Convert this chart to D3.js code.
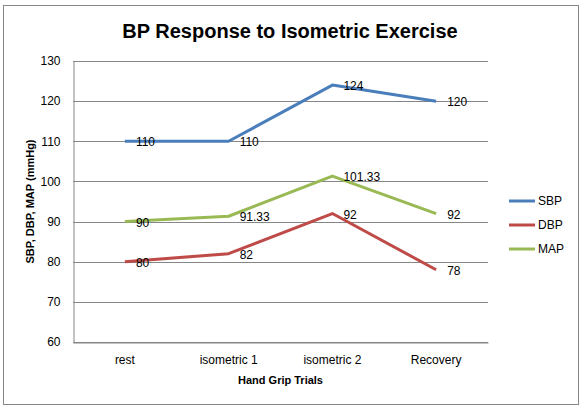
<!doctype html>
<html>
  <head>
    <meta charset="utf-8">
    <title>BP Response to Isometric Exercise</title>
    <script src="https://cdnjs.cloudflare.com/ajax/libs/d3/7.8.5/d3.min.js"></script>
    <style>
      body { margin: 0; background: #fff; }
      text { font-family: "Liberation Sans", Arial, sans-serif; fill: #000; }
    </style>
  </head>
  <body>
    <div id="chart"></div>
    <script>
      // chart data
      const categories = ['rest', 'isometric 1', 'isometric 2', 'Recovery'];
      const sbp = [110, 110, 124, 120];
      const dbp = [80, 82, 92, 78];
      const map = [90, 91.33, 101.33, 92];
      const seriesNames = ['SBP', 'DBP', 'MAP'];
      const yTicks = [60, 70, 80, 90, 100, 110, 120, 130];

      const seriesColors = ['#4a7ebb', '#be4b48', '#98b954'];
      const series = [sbp, dbp, map].map((values, i) => ({
        name: seriesNames[i], values, color: seriesColors[i]
      }));

      const width = 586, height = 412;
      const plot = { left: 73, right: 488, top: 61, bottom: 342 };

      const svg = d3.select('#chart')
        .append('svg')
        .attr('width', width)
        .attr('height', height);

      // outer chart border
      svg.append('rect')
        .attr('x', 3.5).attr('y', 5.5)
        .attr('width', 575).attr('height', 399)
        .attr('fill', '#fff')
        .attr('stroke', '#868686');

      const x = d3.scaleBand()
        .domain(categories)
        .range([plot.left, plot.right]);

      const y = d3.scaleLinear()
        .domain([60, 130])
        .range([plot.bottom, plot.top]);

      // gridlines
      svg.append('g')
        .selectAll('line')
        .data(yTicks)
        .join('line')
        .attr('x1', plot.left).attr('x2', plot.right)
        .attr('y1', d => Math.round(y(d)) + 0.5)
        .attr('y2', d => Math.round(y(d)) + 0.5)
        .attr('stroke', '#868686');

      // y axis
      const yAxis = svg.append('g')
        .attr('transform', `translate(${plot.left + 0.5},0)`)
        .call(d3.axisLeft(y).tickValues(yTicks).tickSize(0).tickPadding(13));
      yAxis.select('.domain').attr('stroke', '#868686');
      yAxis.selectAll('text')
        .attr('font-size', 12)
        .attr('font-family', '"Liberation Sans", Arial, sans-serif');

      // x axis
      const xAxis = svg.append('g')
        .attr('transform', `translate(0,${plot.bottom + 0.5})`)
        .call(d3.axisBottom(x).tickSize(0).tickPadding(13));
      xAxis.select('.domain').attr('stroke', '#868686');
      xAxis.selectAll('text')
        .attr('font-size', 12)
        .attr('font-family', '"Liberation Sans", Arial, sans-serif');

      const cx = d => x(d) + x.bandwidth() / 2;

      const line = d3.line()
        .x((d, i) => cx(categories[i]))
        .y(d => y(d));

      // series lines
      svg.append('g')
        .selectAll('path')
        .data(series)
        .join('path')
        .attr('d', d => line(d.values))
        .attr('fill', 'none')
        .attr('stroke', d => d.color)
        .attr('stroke-width', 3)
        .attr('stroke-linejoin', 'round');

      // data labels
      series.forEach(s => {
        svg.append('g')
          .selectAll('text')
          .data(s.values)
          .join('text')
          .attr('x', (d, i) => cx(categories[i]) + 11)
          .attr('y', d => y(d) + 5)
          .attr('font-size', 12)
          .text(d => d);
      });

      // title
      svg.append('text')
        .attr('x', 290).attr('y', 38)
        .attr('text-anchor', 'middle')
        .attr('font-size', 20)
        .attr('font-weight', 'bold')
        .text('BP Response to Isometric Exercise');

      // axis titles
      svg.append('text')
        .attr('x', (plot.left + plot.right) / 2).attr('y', 384)
        .attr('text-anchor', 'middle')
        .attr('font-size', 11)
        .attr('font-weight', 'bold')
        .text('Hand Grip Trials');

      svg.append('text')
        .attr('transform', `translate(34,${(plot.top + plot.bottom) / 2}) rotate(-90)`)
        .attr('text-anchor', 'middle')
        .attr('font-size', 11)
        .attr('font-weight', 'bold')
        .text('SBP, DBP, MAP (mmHg)');

      // legend
      const legend = svg.append('g')
        .selectAll('g')
        .data(series)
        .join('g')
        .attr('transform', (d, i) => `translate(509,${201 + i * 24})`);
      legend.append('line')
        .attr('x1', 0).attr('x2', 26)
        .attr('stroke', d => d.color)
        .attr('stroke-width', 3);
      legend.append('text')
        .attr('x', 29).attr('y', 4)
        .attr('font-size', 12)
        .text(d => d.name);
    </script>
  </body>
</html>
